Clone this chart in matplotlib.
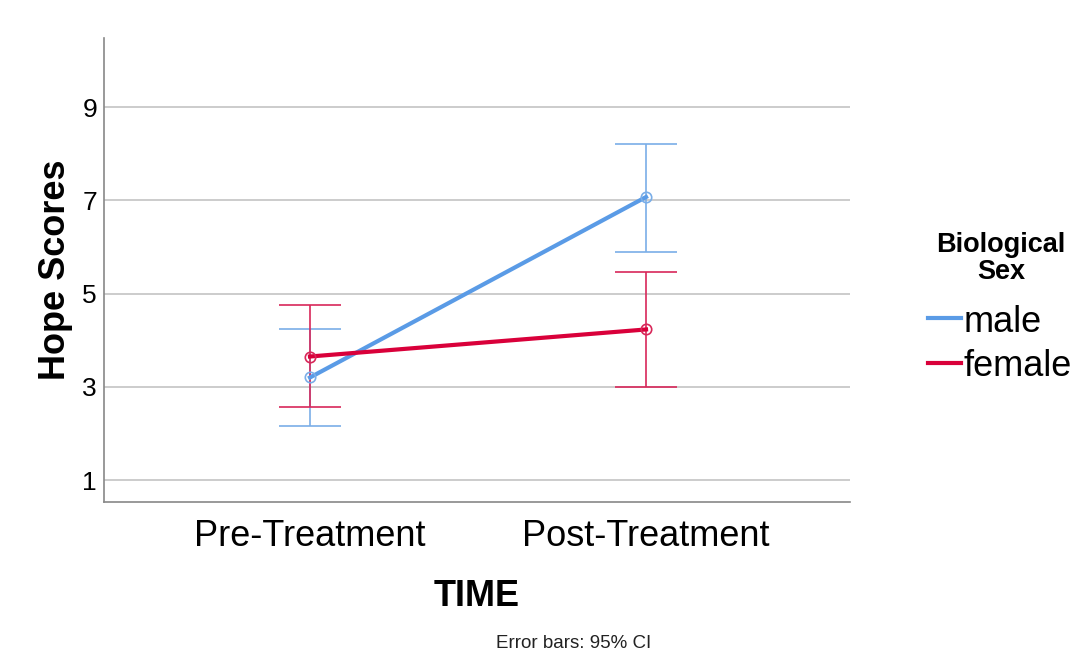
import matplotlib
matplotlib.use("Agg")
import matplotlib.pyplot as plt
from matplotlib.lines import Line2D

plt.rcParams['font.family'] = ['Liberation Sans', 'DejaVu Sans']

categories = ["Pre-Treatment", "Post-Treatment"]
series_names = ["male", "female"]
male_mean = [3.20, 7.07]
male_low = [2.16, 5.90]
male_high = [4.23, 8.21]
female_mean = [3.65, 4.23]
female_low = [2.56, 2.99]
female_high = [4.75, 5.47]
yticks = [1, 3, 5, 7, 9]

colors = {"male": "#5a9be6", "female": "#d9003a"}
bar_colors = {"male": "#7aaee8", "female": "#d8285a"}

W, H = 1091, 663
fig = plt.figure(figsize=(W / 100, H / 100), dpi=100)
ax = fig.add_axes([104 / W, 1 - 502 / H, (850 - 104) / W, (502 - 38) / H])

x = list(range(len(categories)))
data = {
    "male": (male_mean, male_low, male_high),
    "female": (female_mean, female_low, female_high),
}
for name in series_names:
    m, lo, hi = data[name]
    yerr = [[mm - l for mm, l in zip(m, lo)], [h - mm for mm, h in zip(m, hi)]]
    ax.errorbar(x, m, yerr=yerr, fmt='none', ecolor=bar_colors[name],
                elinewidth=1.2, capsize=22.5, capthick=1.2, zorder=3)
    ax.plot(x, m, color=colors[name], lw=3.0, zorder=4,
            marker='o', markersize=7.5, markerfacecolor='none',
            markeredgecolor=bar_colors[name], markeredgewidth=1.2)

ax.set_xlim(-0.613, 1.607)
ax.set_ylim(0.53, 10.48)
ax.set_yticks(yticks)
ax.set_yticklabels([str(t) for t in yticks])
ax.set_xticks(x)
ax.set_xticklabels(categories)
ax.tick_params(axis='y', length=0, labelsize=19, pad=5)
ax.tick_params(axis='x', length=0, labelsize=26, pad=12)
ax.grid(axis='y', color='#c8c8c8', lw=1.3, zorder=0)
ax.set_axisbelow(True)
for s in ['top', 'right']:
    ax.spines[s].set_visible(False)
for s in ['left', 'bottom']:
    ax.spines[s].set_color('#888888')
    ax.spines[s].set_linewidth(1.2)

ax.set_ylabel("Hope Scores", fontsize=26, fontweight='bold', labelpad=7)
ax.set_xlabel("TIME", fontsize=26, fontweight='bold', labelpad=18)

fig.text(574 / W, 1 - 644 / H, "Error bars: 95% CI", fontsize=13.5,
         ha='center', va='center', color='#222222')

# legend drawn manually in figure coordinates
fig.text(1001 / W, 1 - 245 / H, "Biological", fontsize=19.5, fontweight='bold',
         ha='center', va='center')
fig.text(1001 / W, 1 - 272 / H, "Sex", fontsize=19.5, fontweight='bold',
         ha='center', va='center')
for i, name in enumerate(series_names):
    yy = 1 - (318 + 45 * i) / H
    fig.add_artist(Line2D([928 / W, 961 / W], [yy, yy], color=colors[name], lw=3.0,
                          transform=fig.transFigure))
    fig.text(964 / W, yy - 4 / H, name, fontsize=26, ha='left', va='center')

fig.savefig("out.png", dpi=100)
